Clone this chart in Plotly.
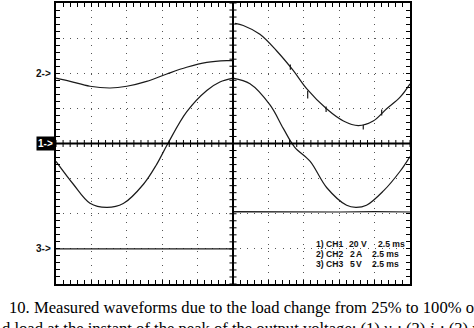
import plotly.graph_objects as go

# ---- data (in screen divisions; x: 0..10 div, y: -4..4 div) ----
ch1_x_left = [0.0, 0.49, 0.96, 1.43, 1.90, 2.47, 2.84, 3.16, 3.69, 4.26, 4.63, 5.0]
ch1_y_left = [-0.51, -1.16, -1.70, -1.82, -1.71, -1.16, -0.60, 0.0, 0.90, 1.51, 1.75, 1.86]
ch1_x_right = [5.0, 5.48, 6.05, 6.42, 6.74, 7.18, 7.65, 8.21, 8.47, 8.77, 9.25, 9.72, 10.0]
ch1_y_right = [1.86, 1.70, 1.09, 0.43, -0.10, -0.51, -1.26, -1.76, -1.82, -1.76, -1.35, -0.79, -0.37]

ch2_x_left = [0.0, 0.40, 0.96, 1.53, 2.0, 2.56, 3.13, 3.69, 4.26, 4.82, 5.0]
ch2_y_left = [1.86, 1.77, 1.63, 1.58, 1.63, 1.77, 1.98, 2.17, 2.31, 2.36, 2.36]
ch2_x_right = [5.0, 5.06, 5.29, 5.76, 6.23, 6.70, 7.08, 7.65, 8.12, 8.54, 8.96, 9.34, 9.72, 10.0]
ch2_y_right = [2.36, 3.42, 3.36, 3.11, 2.64, 2.08, 1.56, 0.98, 0.64, 0.51, 0.64, 0.99, 1.32, 1.70]
ch2_glitch_x = [6.62, 7.11, 7.63, 8.68, 9.20]
ch2_glitch_y0 = [2.25, 1.50, 1.05, 0.53, 0.97]
ch2_glitch_y1 = [2.10, 1.28, 0.90, 0.40, 0.80]

ch3_x = [0.0, 5.0, 5.0, 6.0, 7.0, 8.0, 9.0, 10.0]
ch3_y = [-3.0, -3.0, -1.94, -1.95, -1.94, -1.95, -1.94, -1.95]

marker_labels = ["2->", "1->", "3->"]
marker_levels = [2, 0, -3]

legend_rows = [["1) CH1", "20", "V", "2.5 ms"],
               ["2) CH2", "2", "A", "2.5 ms"],
               ["3) CH3", "5", "V", "2.5 ms"]]

caption_1 = "10. Measured waveforms due to the load change from 25% to 100% of"
caption_2 = "d load at the instant of the peak of the output voltage: (1) <i>v</i><sub>o</sub>; (2) <i>i</i><sub>o</sub>; (3) <i>v</i>"

# ---- figure ----
W, H = 474, 328
ML, MR, MT, MB = 56, 64, 1, 44
PW, PH = W - ML - MR, H - MT - MB

fig = go.Figure()
trace_col = "#1a1a1a"
lw = 1.2

fig.add_trace(go.Scatter(x=ch1_x_left, y=ch1_y_left, mode="lines", line=dict(color=trace_col, width=lw, shape="spline", smoothing=1.0), hoverinfo="skip"))
fig.add_trace(go.Scatter(x=ch1_x_right, y=ch1_y_right, mode="lines", line=dict(color=trace_col, width=lw, shape="spline", smoothing=1.0), hoverinfo="skip"))
fig.add_trace(go.Scatter(x=ch2_x_left, y=ch2_y_left, mode="lines", line=dict(color=trace_col, width=lw, shape="spline", smoothing=1.0), hoverinfo="skip"))
fig.add_trace(go.Scatter(x=ch2_x_right[1:], y=ch2_y_right[1:], mode="lines", line=dict(color=trace_col, width=lw, shape="spline", smoothing=1.0), hoverinfo="skip"))
gx, gy = [], []
for x, a, b in zip(ch2_glitch_x, ch2_glitch_y0, ch2_glitch_y1):
    gx += [x, x, None]
    gy += [a, b, None]
fig.add_trace(go.Scatter(x=gx, y=gy, mode="lines", line=dict(color=trace_col, width=1.2), hoverinfo="skip"))
fig.add_trace(go.Scatter(x=ch3_x, y=ch3_y, mode="lines", line=dict(color=trace_col, width=lw), hoverinfo="skip"))

# center cross ticks
tx, ty = [], []
for i in range(51):
    x = i * 0.2
    tx += [x, x, None]
    ty += [-0.1, 0.1, None]
for i in range(41):
    y = -4 + i * 0.2
    tx += [4.9, 5.1, None]
    ty += [y, y, None]
fig.add_trace(go.Scatter(x=tx, y=ty, mode="lines", line=dict(color="black", width=1), hoverinfo="skip"))

fig.add_shape(type="line", x0=0, x1=10, y0=0, y1=0, line=dict(color="black", width=2))
fig.add_shape(type="line", x0=5, x1=5, y0=-4, y1=4, line=dict(color="black", width=2))

axis_common = dict(
    showgrid=True, gridcolor="#555555", gridwidth=1, griddash="1px,6.08px",
    ticks="inside", ticklen=4, tickcolor="black", tickwidth=1,
    showline=True, linewidth=2, linecolor="black", mirror="ticks",
    showticklabels=False, zeroline=False, fixedrange=True,
)
fig.update_xaxes(range=[0, 10], dtick=1, tick0=0,
                 minor=dict(dtick=0.2, tick0=0, ticks="inside", ticklen=4, tickcolor="black", showgrid=False),
                 **axis_common)
fig.update_yaxes(range=[-4, 4], dtick=1, tick0=0,
                 minor=dict(dtick=0.2, tick0=0, ticks="inside", ticklen=4, tickcolor="black", showgrid=False),
                 **axis_common)

# channel markers
for lab, lev in zip(marker_labels, marker_levels):
    is_one = lab.startswith("1")
    fig.add_annotation(
        x=(55 - ML) / PW if is_one else (53 - ML) / PW, xref="paper", y=lev, yref="y",
        text="<b>%s</b>" % lab, showarrow=False, xanchor="right", yanchor="middle",
        font=dict(family="Liberation Sans", size=10, color="white" if is_one else "#111"),
        bgcolor="black" if is_one else None, borderpad=1,
    )

# legend text block
row_y = [-2.85, -3.15, -3.44]
col_x = [[7.30, 8.22, 8.56, 9.04], [7.30, 8.26, 8.43, 8.87], [7.30, 8.26, 8.43, 8.87]]
for r, row in enumerate(legend_rows):
    for c, txt in enumerate(row):
        fig.add_annotation(x=col_x[r][c], y=row_y[r], xref="x", yref="y", text="<b>%s</b>" % txt,
                           showarrow=False, xanchor="left", yanchor="middle",
                           font=dict(family="Liberation Sans", size=8.6, color="#111"))

# caption
fig.add_annotation(x=(7 - ML) / PW, xref="paper", y=(H - MB - 308) / PH, yref="paper",
                   text=caption_1, showarrow=False, xanchor="left", yanchor="middle",
                   font=dict(family="Liberation Serif", size=16.6, color="black"))
fig.add_annotation(x=(0 - ML) / PW, xref="paper", y=(H - MB - 330) / PH, yref="paper",
                   text=caption_2, showarrow=False, xanchor="left", yanchor="middle",
                   font=dict(family="Liberation Serif", size=16.6, color="black"))

fig.update_layout(
    width=W, height=H, margin=dict(l=ML, r=MR, t=MT, b=MB),
    paper_bgcolor="white", plot_bgcolor="white", showlegend=False,
)
fig.write_html("out.html")
